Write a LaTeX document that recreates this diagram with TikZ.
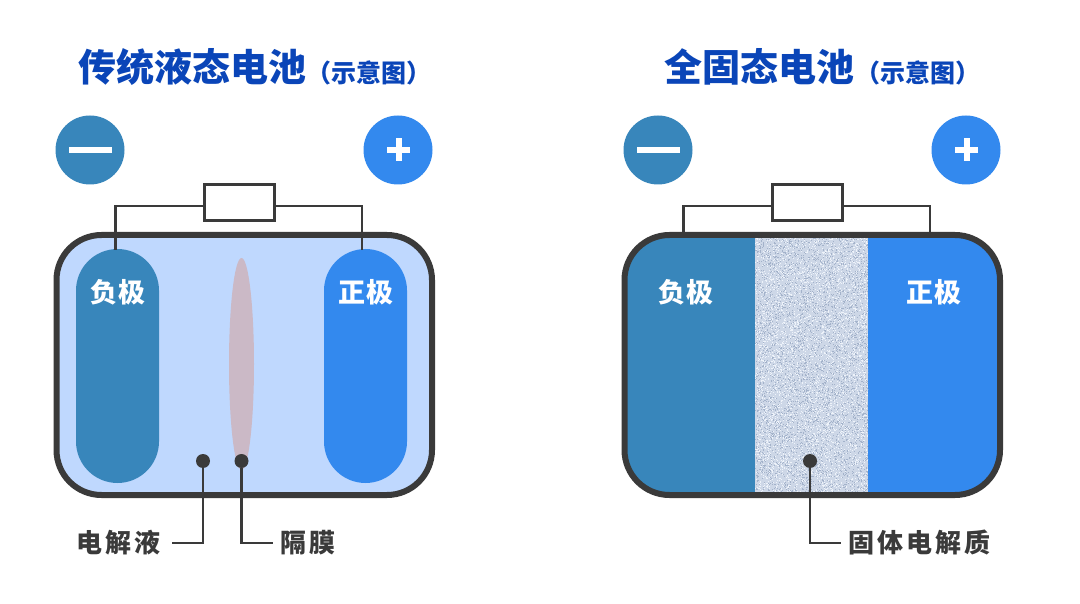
\documentclass[tikz,border=0pt]{standalone}
\usepackage{fontspec}
\usetikzlibrary{shapes.geometric}
\newfontfamily\cjk{Noto Sans CJK SC}
\newfontfamily\cjkwide[LetterSpace=12]{Noto Sans CJK SC}
\newfontfamily\cjkpole[LetterSpace=6]{Noto Sans CJK SC}
\definecolor{negblue}{HTML}{3886BB}
\definecolor{posblue}{HTML}{3389EE}
\definecolor{elecblue}{HTML}{BFD8FE}
\definecolor{membcol}{HTML}{CBB9C6}
\definecolor{inkcol}{HTML}{3A3A3A}
\definecolor{titleblue}{HTML}{0A45B8}
\definecolor{noisebase}{HTML}{CDD7E7}
\definecolor{noisedark}{HTML}{A3B2CA}
\definecolor{noiselight}{HTML}{EEF3FA}
\tikzset{
  x=1pt,y=-1pt,
  titletext/.style={inner sep=0,anchor=west,text=titleblue,font=\cjk\bfseries\fontsize{38}{40}\selectfont},
  subtext/.style={inner sep=0,anchor=west,text=titleblue,font=\cjk\bfseries\fontsize{25}{27}\selectfont},
  polecircle/.style={circle,minimum size=69pt,inner sep=0},
  shell/.style={draw=inkcol,line width=6pt,rounded corners=45pt},
  resistor/.style={rectangle,draw=inkcol,line width=3pt,fill=white,minimum width=70pt,minimum height=36pt,inner sep=0},
  wire/.style={draw=inkcol,line width=2.8pt},
  leader/.style={draw=inkcol,line width=2.8pt},
  electrode/.style={rectangle,rounded corners=41.5pt,minimum width=83pt,minimum height=234pt,inner sep=0},
  polelabel/.style={inner sep=0,text=white,font=\cjkpole\bfseries\fontsize{27}{29}\selectfont},
  calllabel/.style={inner sep=0,text=inkcol,font=\cjkwide\bfseries\fontsize{26}{28}\selectfont},
  dotmark/.style={circle,fill=inkcol,minimum size=14pt,inner sep=0},
}
\begin{document}
\begin{tikzpicture}
\useasboundingbox[fill=white] (0,0) rectangle (1080,604);
% titles
\node[titletext] (t1) at (78,67) {传统液态电池};
\node[subtext] (s1) at (306,72.5) {（示意图）};
\node[titletext] (t2) at (664,67) {全固态电池};
\node[subtext] (s2) at (855,72.5) {（示意图）};
% pole circles
\foreach \n/\dx in {a/0,b/568}{
  \node[polecircle,fill=negblue] (minus\n) at (90+\dx,150) {};
  \node[polecircle,fill=posblue] (plus\n) at (398+\dx,150) {};
  \fill[white] (69+\dx,147) rectangle (112+\dx,153);
  \fill[white] (387+\dx,147) rectangle (410+\dx,153);
  \fill[white] (395.5+\dx,138.5) rectangle (401.5+\dx,161.5);
}
% left battery
\fill[fill=elecblue,rounded corners=45pt] (56.5,235) rectangle (432,495);
\node[electrode,fill=negblue] (anodeA) at (117.5,366) {};
\node[electrode,fill=posblue] (cathodeA) at (365.5,366) {};
\node[ellipse,fill=membcol,minimum width=25pt,minimum height=212pt,inner sep=0] (membrane) at (241.5,364) {};
\draw[shell] (56.5,235) rectangle (432,495);
% right battery
\begin{scope}
  \clip[rounded corners=45pt] (624.5,235) rectangle (1000,495);
  \fill[fill=negblue] (624.5,235) rectangle (755,495);
  \fill[fill=posblue] (868,235) rectangle (1000,495);
  \fill[fill=noisebase] (755,235) rectangle (868,495);
  \begin{scope}
    \clip (755,235) rectangle (868,495);
    \pgfmathsetseed{4242}
    \foreach \i in {1,...,4200}{
      \pgfmathsetmacro{\xa}{755+113*rnd}
      \pgfmathsetmacro{\ya}{235+260*rnd}
      \fill[fill=noisedark] (\xa,\ya) rectangle ++(1,1);
      \pgfmathsetmacro{\xb}{755+113*rnd}
      \pgfmathsetmacro{\yb}{235+260*rnd}
      \fill[fill=noiselight] (\xb,\yb) rectangle ++(1,1);
    }
  \end{scope}
\end{scope}
\draw[shell] (624.5,235) rectangle (1000,495);
% circuit
\node[resistor] (resA) at (239.5,202.5) {};
\node[resistor] (resB) at (807.5,202.5) {};
\coordinate (wa1) at (115.5,250);
\coordinate (wa2) at (115.5,206);
\coordinate (wa3) at (204.5,206);
\coordinate (wa4) at (274.5,206);
\coordinate (wa5) at (362,206);
\coordinate (wa6) at (362,250);
\path[wire] (wa1) -- (wa2) -- (wa3);
\path[wire] (wa4) -- (wa5) -- (wa6);
\coordinate (wb1) at (683.5,235);
\coordinate (wb2) at (683.5,206);
\coordinate (wb3) at (772.5,206);
\coordinate (wb4) at (842.5,206);
\coordinate (wb5) at (930,206);
\coordinate (wb6) at (930,235);
\path[wire] (wb1) -- (wb2) -- (wb3);
\path[wire] (wb4) -- (wb5) -- (wb6);
% electrode labels
\node[polelabel] (la) at (118,292) {负极};
\node[polelabel] (lb) at (366,292) {正极};
\node[polelabel] (lc) at (686,292) {负极};
\node[polelabel] (ld) at (934,292) {正极};
% callouts
\node[dotmark] (d1) at (203,461) {};
\node[dotmark] (d2) at (241.5,461) {};
\node[dotmark] (d3) at (810,461) {};
\node[calllabel,anchor=east] (c1) at (160.5,543) {电解液};
\node[calllabel,anchor=west] (c2) at (280,543) {隔膜};
\node[calllabel,anchor=west] (c3) at (848,543) {固体电解质};
\coordinate (e1) at (172,543);
\coordinate (e2) at (273,543);
\coordinate (e3) at (841,543);
\path[leader] (d1) |- (e1);
\path[leader] (d2) |- (e2);
\path[leader] (d3) |- (e3);
\end{tikzpicture}
\end{document}
